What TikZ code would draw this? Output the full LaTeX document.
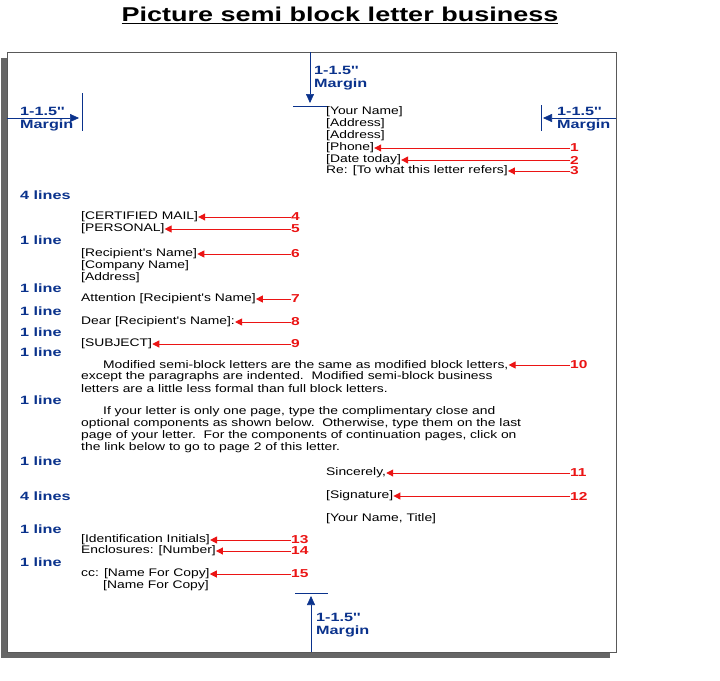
\documentclass[tikz,border=0pt]{standalone}
\usepackage{fontspec}
\setmainfont{Liberation Sans}
\newfontfamily\widefont[FakeStretch=1.26]{Liberation Sans}
\newfontfamily\widerfont[FakeStretch=1.35]{Liberation Sans}
\usetikzlibrary{arrows.meta}
\definecolor{mblue}{RGB}{10,50,140}
\definecolor{mred}{RGB}{235,20,20}
\tikzset{
 x=1pt,y=-1pt,
 txt/.style={anchor=west,inner sep=0pt,font=\widefont\fontsize{11}{12}\selectfont},
 lab/.style={anchor=west,inner sep=0pt,font=\widerfont\bfseries\fontsize{12}{13.5}\selectfont,text=mblue,align=left},
 num/.style={anchor=west,inner sep=0pt,font=\widerfont\bfseries\fontsize{11.5}{12}\selectfont,text=mred},
 rarr/.style={mred,line width=1pt,-{Triangle[length=7pt,width=7pt]}},
 barr/.style={mblue,line width=0.6pt,-{Triangle[length=9pt,width=8pt]}},
 bl/.style={mblue,line width=0.6pt}
}
\begin{document}
\begin{tikzpicture}
\useasboundingbox (0,0) rectangle (720,680);
\node[font=\widerfont\bfseries\fontsize{20}{22}\selectfont] (title) at (340,15) {\underline{Picture semi block letter business}};
% page
\fill[gray!80!black] (1,58) rectangle (610,658);
\draw[fill=white,draw=gray!70!black,line width=0.7pt] (7,52) rectangle (616,652);
% top margin
\coordinate (t1) at (310,52); \coordinate (t2) at (310,103);
\draw[barr] (t1) -- (t2);
\coordinate (th1) at (293,106); \coordinate (th2) at (327,106);
\draw[bl] (th1) -- (th2);
\node[lab] (tl) at (314,78) {1-1.5''\\Margin};
% left margin
\coordinate (l1) at (7,118); \coordinate (l2) at (79,118);
\draw[barr] (l1) -- (l2);
\coordinate (lv1) at (82,93); \coordinate (lv2) at (82,131);
\draw[bl] (lv1) -- (lv2);
\node[lab] (ll) at (20,119) {1-1.5''\\Margin};
% right margin
\coordinate (r1) at (616,118); \coordinate (r2) at (543,118);
\draw[barr] (r1) -- (r2);
\coordinate (rv1) at (541,105); \coordinate (rv2) at (541,131);
\draw[bl] (rv1) -- (rv2);
\node[lab] (rl) at (557,119) {1-1.5''\\Margin};
% bottom margin
\coordinate (b1) at (311,652); \coordinate (b2) at (311,596);
\draw[barr] (b1) -- (b2);
\coordinate (bh1) at (295,593); \coordinate (bh2) at (328,593);
\draw[bl] (bh1) -- (bh2);
\node[lab] (bl) at (316,625) {1-1.5''\\Margin};
% left labels
\foreach \n/\y/\t in {a/195/4 lines,b/240/1 line,c/288/1 line,d/311/1 line,e/332/1 line,f/352/1 line,g/400/1 line,h/461/1 line,i/496/4 lines,j/529/1 line,k/562/1 line}
 \node[lab] (L\n) at (20,\y) {\t};
% header
\node[txt] (yn) at (326,112) {[Your Name]};
\node[txt] (ad1) at (326,124) {[Address]};
\node[txt] (ad2) at (326,136) {[Address]};
\node[txt] (ph) at (326,148) {[Phone]};
\node[txt] (dt) at (326,160) {[Date today]};
\node[txt] (re) at (326,171) {Re: [To what this letter refers]};
\node[txt] (cm) at (81,217) {[CERTIFIED MAIL]};
\node[txt] (pe) at (81,229) {[PERSONAL]};
\node[txt] (rn) at (81,254) {[Recipient's Name]};
\node[txt] (cn) at (81,266) {[Company Name]};
\node[txt] (ad3) at (81,278) {[Address]};
\node[txt] (at) at (81,299) {Attention [Recipient's Name]};
\node[txt] (de) at (81,322) {Dear [Recipient's Name]:};
\node[txt] (sb) at (81,344) {[SUBJECT]};
\node[txt] (p1) at (103,365) {Modified semi-block letters are the same as modified block letters,};
\node[txt] (p2) at (81,377) {except the paragraphs are indented.\ \ Modified semi-block business};
\node[txt] (p3) at (81,389) {letters are a little less formal than full block letters.};
\node[txt] (q1) at (103,412) {If your letter is only one page, type the complimentary close and};
\node[txt] (q2) at (81,424) {optional components as shown below.\ \ Otherwise, type them on the last};
\node[txt] (q3) at (81,436) {page of your letter.\ \ For the components of continuation pages, click on};
\node[txt] (q4) at (81,448) {the link below to go to page 2 of this letter.};
\node[txt] (si) at (326,473) {Sincerely,};
\node[txt] (sg) at (326,496) {[Signature]};
\node[txt] (nt) at (326,519) {[Your Name, Title]};
\node[txt] (ii) at (81,540) {[Identification Initials]};
\node[txt] (en) at (81,551) {Enclosures: [Number]};
\node[txt] (cc) at (81,574) {cc: [Name For Copy]};
\node[txt] (cc2) at (103,586) {[Name For Copy]};
% numbers and arrows
\foreach \i/\x/\y/\tg in {1/570/148/ph,2/570/160/dt,3/570/171/re,4/291/217/cm,5/291/229/pe,6/291/254/rn,7/291/299/at,8/291/322/de,9/291/344/sb,10/570/365/p1,11/570/473/si,12/570/496/sg,13/291/540/ii,14/291/551/en,15/291/574/cc}{
 \node[num] (n\i) at (\x,\y) {\i};
 \draw[rarr] (n\i.west) -- (\tg.east);
}
\end{tikzpicture}
\end{document}
